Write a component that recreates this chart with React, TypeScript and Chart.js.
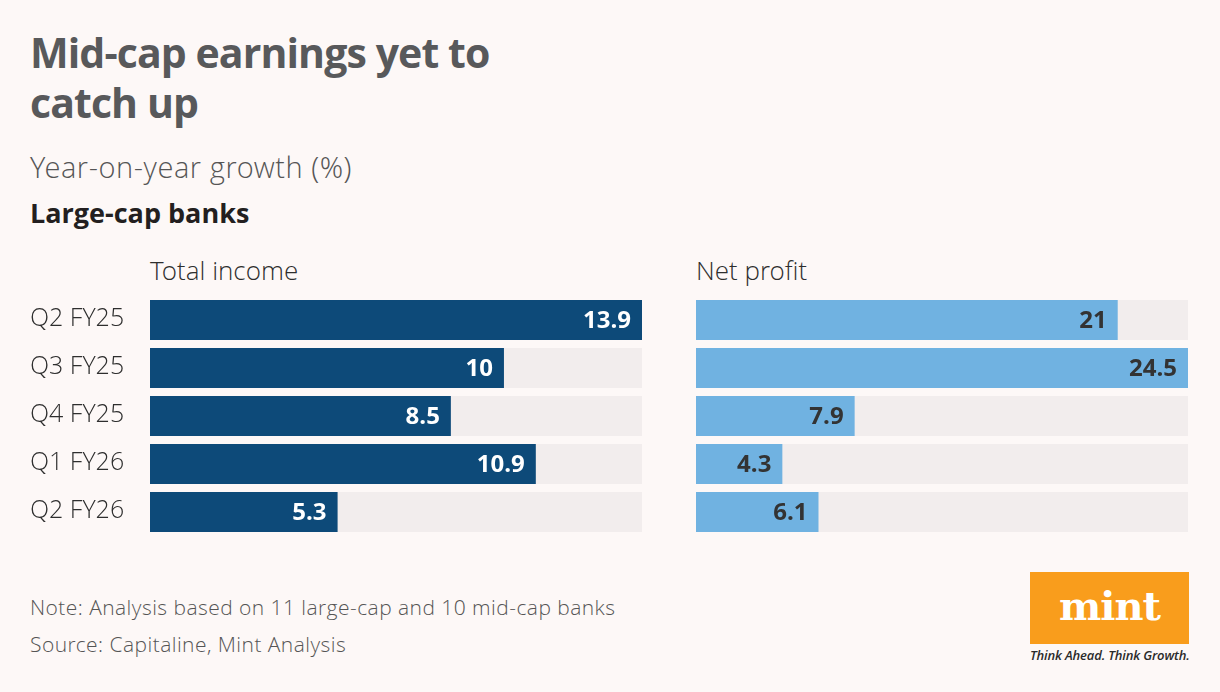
import React, { useEffect, useRef } from "react";
import { Chart, registerables } from "chart.js";

Chart.register(...registerables);

const categories = ["Q2 FY25", "Q3 FY25", "Q4 FY25", "Q1 FY26", "Q2 FY26"];
const totalIncome = [13.9, 10, 8.5, 10.9, 5.3];
const netProfit = [21, 24.5, 7.9, 4.3, 6.1];

const BG = "#FDF8F7";
const TRACK = "#F2EDED";
const DARK_BLUE = "#0D4A79";
const LIGHT_BLUE = "#70B2E1";
const FONT = "'Open Sans', 'Noto Sans', sans-serif";
const LIGHT_FONT = "'Open Sans Light', 'Open Sans', 'Noto Sans', sans-serif";

// Grey track behind each bar, spanning the full plot width
const trackPlugin = {
  id: "track",
  beforeDatasetsDraw(chart: any) {
    const { ctx, chartArea } = chart;
    const meta = chart.getDatasetMeta(0);
    ctx.save();
    ctx.fillStyle = TRACK;
    meta.data.forEach((el: any) => {
      const h = el.height;
      ctx.fillRect(chartArea.left, el.y - h / 2, chartArea.right - chartArea.left, h);
    });
    ctx.restore();
  },
};

// Value printed inside the end of each bar, plus optional category names on the left
const makeLabelPlugin = (color: string, showCategories: boolean) => ({
  id: "labels",
  afterDatasetsDraw(chart: any) {
    const { ctx } = chart;
    const meta = chart.getDatasetMeta(0);
    const data = chart.data.datasets[0].data as number[];
    const labels = chart.data.labels as string[];
    ctx.save();
    ctx.textBaseline = "middle";
    meta.data.forEach((el: any, i: number) => {
      ctx.fillStyle = color;
      ctx.font = `700 24px ${FONT}`;
      ctx.textAlign = "right";
      ctx.fillText(String(data[i]), el.x - 11, el.y + 1);
      if (showCategories) {
        ctx.fillStyle = "#2E2E2E";
        ctx.font = `300 25px ${LIGHT_FONT}`;
        ctx.textAlign = "left";
        ctx.fillText(labels[i], 0, el.y - 1);
      }
    });
    ctx.restore();
  },
});

function BarPanel({
  values,
  color,
  labelColor,
  showCategories,
  width,
}: {
  values: number[];
  color: string;
  labelColor: string;
  showCategories: boolean;
  width: number;
}) {
  const ref = useRef<HTMLCanvasElement>(null);
  useEffect(() => {
    if (!ref.current) return;
    const chart = new Chart(ref.current, {
      type: "bar",
      data: {
        labels: categories,
        datasets: [
          {
            data: values,
            backgroundColor: color,
            borderWidth: 0,
            barPercentage: 1,
            categoryPercentage: 40 / 48,
          },
        ],
      },
      options: {
        indexAxis: "y",
        animation: false,
        responsive: false,
        maintainAspectRatio: false,
        layout: { padding: { left: showCategories ? 120 : 0, right: 0, top: 0, bottom: 0 } },
        plugins: {
          legend: { display: false },
          tooltip: { enabled: false },
          title: { display: false },
        },
        scales: {
          x: {
            display: false,
            min: 0,
            max: Math.max(...values),
          },
          y: {
            display: false,
          },
        },
      },
      plugins: [trackPlugin, makeLabelPlugin(labelColor, showCategories)],
    });
    document.fonts?.ready.then(() => chart.update());
    return () => chart.destroy();
  }, []);
  return <canvas ref={ref} width={width} height={240} style={{ display: "block" }} />;
}

const abs = (o: React.CSSProperties): React.CSSProperties => ({
  position: "absolute",
  margin: 0,
  whiteSpace: "nowrap",
  ...o,
});

const light: React.CSSProperties = { fontFamily: LIGHT_FONT, fontWeight: 300 };

export default function App() {
  useEffect(() => {
    document.body.style.margin = "0";
    document.body.style.background = BG;
  }, []);
  return (
    <div
      style={{
        position: "fixed",
        left: 0,
        top: 0,
        width: 1220,
        height: 692,
        background: BG,
        fontFamily: FONT,
        overflow: "hidden",
      }}
    >
      <div
        style={abs({
          left: 30,
          top: 27,
          fontSize: 41,
          lineHeight: "50px",
          fontWeight: 700,
          letterSpacing: -0.9,
          color: "#58595B",
          whiteSpace: "normal",
          width: 520,
        })}
      >
        Mid-cap earnings yet to
        <br />
        catch up
      </div>
      <div style={abs({ ...light, left: 30, top: 152, fontSize: 29, lineHeight: 1, color: "#555555", letterSpacing: 0.55 })}>
        Year-on-year growth (%)
      </div>
      <div
        style={abs({
          left: 30,
          top: 199,
          fontSize: 27,
          lineHeight: 1,
          fontWeight: 700,
          color: "#231F20",
        })}
      >
        Large-cap banks
      </div>
      <div style={abs({ ...light, left: 150, top: 257, fontSize: 26, lineHeight: 1, color: "#2E2E2E" })}>
        Total income
      </div>
      <div style={abs({ ...light, left: 696, top: 257, fontSize: 26, lineHeight: 1, color: "#2E2E2E" })}>
        Net profit
      </div>

      <div style={abs({ left: 30, top: 296 })}>
        <BarPanel values={totalIncome} color={DARK_BLUE} labelColor="#FFFFFF" showCategories={true} width={612} />
      </div>
      <div style={abs({ left: 696, top: 296 })}>
        <BarPanel values={netProfit} color={LIGHT_BLUE} labelColor="#333333" showCategories={false} width={492} />
      </div>

      <div style={abs({ ...light, left: 30, top: 597, fontSize: 21, lineHeight: 1, color: "#555555", letterSpacing: 0.45 })}>
        Note: Analysis based on 11 large-cap and 10 mid-cap banks
      </div>
      <div style={abs({ ...light, left: 30, top: 634, fontSize: 21, lineHeight: 1, color: "#555555", letterSpacing: 0.45 })}>
        Source: Capitaline, Mint Analysis
      </div>

      <div
        style={abs({
          left: 1030,
          top: 572,
          width: 159,
          height: 72,
          background: "#F99D1C",
          display: "flex",
          alignItems: "center",
          justifyContent: "center",
        })}
      >
        <span
          style={{
            fontFamily: "'DejaVu Serif', serif",
            fontWeight: 700,
            fontSize: 40,
            color: "#FFFFFF",
            letterSpacing: -1,
            lineHeight: 1,
            marginTop: -4,
          }}
        >
          mint
        </span>
      </div>
      <div
        style={abs({
          left: 1030,
          top: 649,
          fontSize: 13,
          lineHeight: 1,
          fontStyle: "italic",
          fontWeight: 600,
          letterSpacing: -0.15,
          color: "#2B2B2B",
        })}
      >
        Think Ahead. Think Growth.
      </div>
    </div>
  );
}
